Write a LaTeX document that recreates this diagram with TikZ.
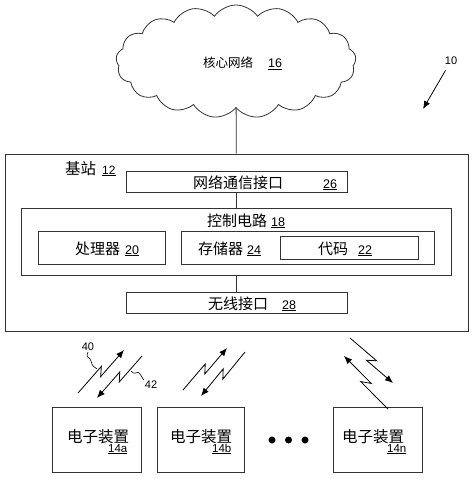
\documentclass[tikz,border=0pt]{standalone}
\usepackage{fontspec}
\setmainfont{Liberation Sans}
\newfontfamily\cjk{Noto Sans CJK SC}
\usepackage{tikz}
\usetikzlibrary{arrows.meta,shapes.symbols,calc}

\newcommand{\refnum}[1]{\underline{#1}}
\newcommand{\lightning}[2]{\draw[bolt] (#1) -- ($(#1)!.56!(#2)!3.5pt!90:(#2)$) -- ($(#1)!.44!(#2)!3.5pt!-90:(#2)$) -- (#2);}

\tikzset{
  box/.style={draw=black!80,line width=0.8pt,rectangle,inner sep=0pt},
  zh/.style={font=\cjk\fontsize{15}{18}\selectfont,inner sep=0pt,anchor=base west},
  num/.style={font=\fontsize{12.5}{15}\selectfont,inner sep=0pt,anchor=base west},
  lbl/.style={font=\fontsize{11}{13}\selectfont,inner sep=1pt},
  bolt/.style={line width=0.8pt,-{Latex[length=8pt,width=6.5pt]}},
}

\begin{document}
\begin{tikzpicture}[x=1pt,y=-1pt]
  \useasboundingbox (0,0) rectangle (474,479);
  % core network
  \draw (236,61.5) node[cloud,draw=black!80,line width=0.8pt,cloud puffs=17,cloud puff arc=110,aspect=2.1,minimum width=240pt,minimum height=113pt,inner sep=0pt] (core) {};
  \draw (203,67.5) node[zh,font=\cjk\fontsize{12.5}{15}\selectfont] (t-core) {核心网络};
  \draw (268,67.5) node[num] (n-core) {\refnum{16}};

  % base station
  \draw (236.5,242.5) node[box,minimum width=463pt,minimum height=177pt] (bs) {};
  \draw (65,174) node[zh,font=\cjk\fontsize{15.5}{18}\selectfont] (t-bs) {基站};
  \draw (102,174) node[num,font=\fontsize{12}{14}\selectfont] (n-bs) {\refnum{12}};

  \draw (236.5,181.5) node[box,minimum width=221pt,minimum height=21pt] (netif) {};
  \draw (193,188) node[zh] (t-netif) {网络通信接口};
  \draw (323,188) node[num] (n-netif) {\refnum{26}};

  \draw (236.5,241.5) node[box,minimum width=430pt,minimum height=67pt] (ctrl) {};
  \draw (207,226) node[zh] (t-ctrl) {控制电路};
  \draw (271,226) node[num] (n-ctrl) {\refnum{18}};

  \draw (101.5,247.5) node[box,minimum width=127pt,minimum height=33pt] (proc) {};
  \draw (75,254) node[zh] (t-proc) {处理器};
  \draw (125,254) node[num] (n-proc) {\refnum{20}};

  \draw (307.5,247.5) node[box,minimum width=253pt,minimum height=33pt] (mem) {};
  \draw (198,254) node[zh] (t-mem) {存储器};
  \draw (247,254) node[num] (n-mem) {\refnum{24}};

  \draw (349,247.5) node[box,minimum width=138pt,minimum height=23pt] (code) {};
  \draw (318,254) node[zh] (t-code) {代码};
  \draw (358,254) node[num] (n-code) {\refnum{22}};

  \draw (236.5,302.5) node[box,minimum width=221pt,minimum height=21pt] (wlif) {};
  \draw (208,309) node[zh] (t-wlif) {无线接口};
  \draw (282,309) node[num] (n-wlif) {\refnum{28}};

  \path[-,draw=black!80,line width=0.8pt] (core) edge (bs);
  \path[-,draw=black!80,line width=0.8pt] (netif) edge (ctrl);
  \path[-,draw=black!80,line width=0.8pt] (ctrl) edge (wlif);

  % system label
  \draw (451,61) node[lbl] (l10) {10};
  \coordinate (c10) at (423,109);
  \draw[line width=0.8pt,-{Latex[length=8pt,width=6.5pt]},shorten <=5pt] (l10) -- (c10);

  % electronic devices
  \draw (96.5,439.5) node[box,minimum width=89pt,minimum height=65pt] (dev-a) {};
  \draw (67,442) node[zh,font=\cjk\fontsize{15.5}{18}\selectfont] (t-dev-a) {电子装置};
  \draw (108,452) node[num,font=\fontsize{11.5}{14}\selectfont] (n-dev-a) {\refnum{14a}};

  \draw (200.5,439.5) node[box,minimum width=87pt,minimum height=65pt] (dev-b) {};
  \draw (170,442) node[zh,font=\cjk\fontsize{15.5}{18}\selectfont] (t-dev-b) {电子装置};
  \draw (212,452) node[num,font=\fontsize{11.5}{14}\selectfont] (n-dev-b) {\refnum{14b}};

  \draw (377.5,439.5) node[box,minimum width=89pt,minimum height=65pt] (dev-n) {};
  \draw (342,442) node[zh,font=\cjk\fontsize{15.5}{18}\selectfont] (t-dev-n) {电子装置};
  \draw (387,452) node[num,font=\fontsize{11.5}{14}\selectfont] (n-dev-n) {\refnum{14n}};

  \foreach \i/\x in {1/272,2/288.5,3/305}
    \draw (\x,440) node[circle,fill,inner sep=0pt,minimum size=7pt] (dot\i) {};

  % wireless links
  \coordinate (a1s) at (78,393);  \coordinate (a1e) at (124,350);
  \coordinate (a2s) at (142,356); \coordinate (a2e) at (97,398);
  \coordinate (b1s) at (183,390); \coordinate (b1e) at (227,348);
  \coordinate (b2s) at (245,352); \coordinate (b2e) at (201,396);
  \coordinate (n1s) at (350,338); \coordinate (n1e) at (393,383);
  \coordinate (n2s) at (388,409); \coordinate (n2e) at (344,356);
  \lightning{a1s}{a1e}
  \lightning{a2s}{a2e}
  \lightning{b1s}{b1e}
  \lightning{b2s}{b2e}
  \lightning{n1s}{n1e}
  \lightning{n2s}{n2e}

  \draw (88,347) node[lbl] (l40) {40};
  \coordinate (c40) at (97,369);
  \draw[line width=0.6pt] (l40.south) .. controls (85,359) and (90,356) .. (91,361) .. controls (92,366) and (94,367) .. (c40);
  \draw (151,385) node[lbl] (l42) {42};
  \coordinate (c42) at (131,371);
  \draw[line width=0.6pt] (l42.north west) .. controls (141,376) and (139,370) .. (136,373) .. controls (134,375) and (133,372) .. (c42);
\end{tikzpicture}
\end{document}
